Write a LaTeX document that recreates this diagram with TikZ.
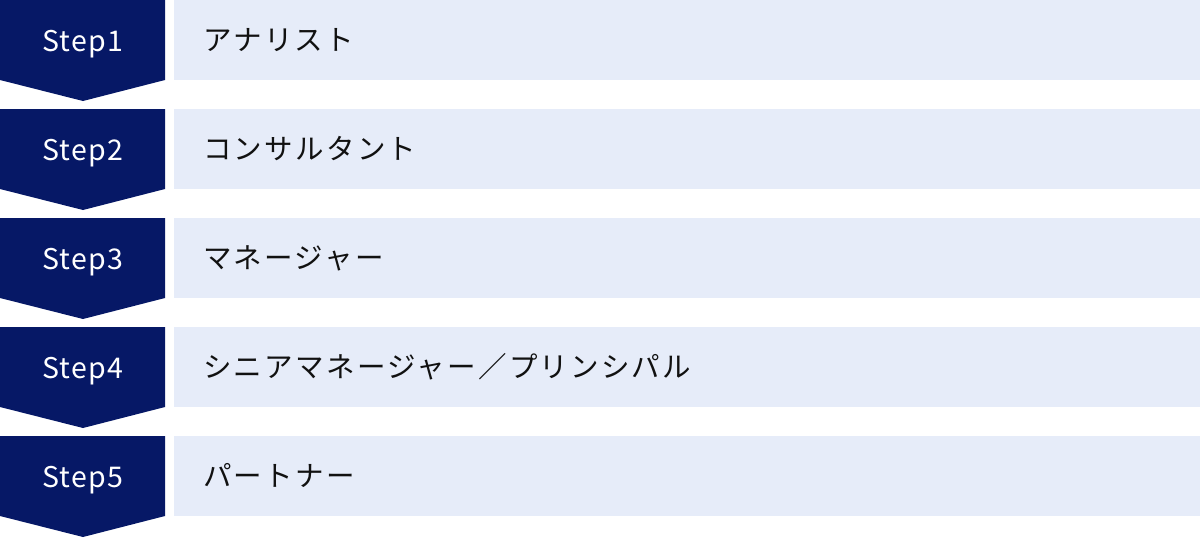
\documentclass[tikz,border=0pt]{standalone}
\usepackage{fontspec}
\setmainfont{Noto Sans CJK JP}
\newfontfamily\stepfont[LetterSpace=5]{Noto Sans CJK JP}
\newfontfamily\rolefont[LetterSpace=8]{Noto Sans CJK JP}
\definecolor{stepnavy}{HTML}{061866}
\definecolor{rowblue}{HTML}{E6ECF9}
\definecolor{rowtext}{HTML}{111111}

\tikzset{
  stepshape/.style={fill=stepnavy, draw=none},
  rowbox/.style={fill=rowblue, draw=none},
  steplabel/.style={text=white, font=\stepfont\fontsize{28.5}{32}\selectfont, anchor=base},
  rolelabel/.style={text=rowtext, font=\rolefont\fontsize{28.5}{32}\selectfont, anchor=base west, inner sep=0pt}
}

\begin{document}
\begin{tikzpicture}[x=1pt,y=-1pt]
    \useasboundingbox (0,0) rectangle (1200,538);

    % One row per step: arrow block on the left, pale band on the right
    \foreach \n/\t/\role in {1/0/アナリスト, 2/109/コンサルタント, 3/218/マネージャー,
                             4/327/シニアマネージャー／プリンシパル, 5/436/パートナー} {
        % Arrow block pointing down
        \draw[stepshape] (0,\t) -- (165,\t) -- (165,{\t+80}) -- (83,{\t+101})
            -- (0,{\t+80}) -- cycle;
        % Pale band
        \draw[rowbox] (174,\t) rectangle (1200,{\t+80});
        % Labels
        \node[steplabel] (step\n) at (83,{\t+51}) {Step\n};
        \node[rolelabel] (role\n) at (203,{\t+50.5}) {\role};
    }
\end{tikzpicture}
\end{document}
